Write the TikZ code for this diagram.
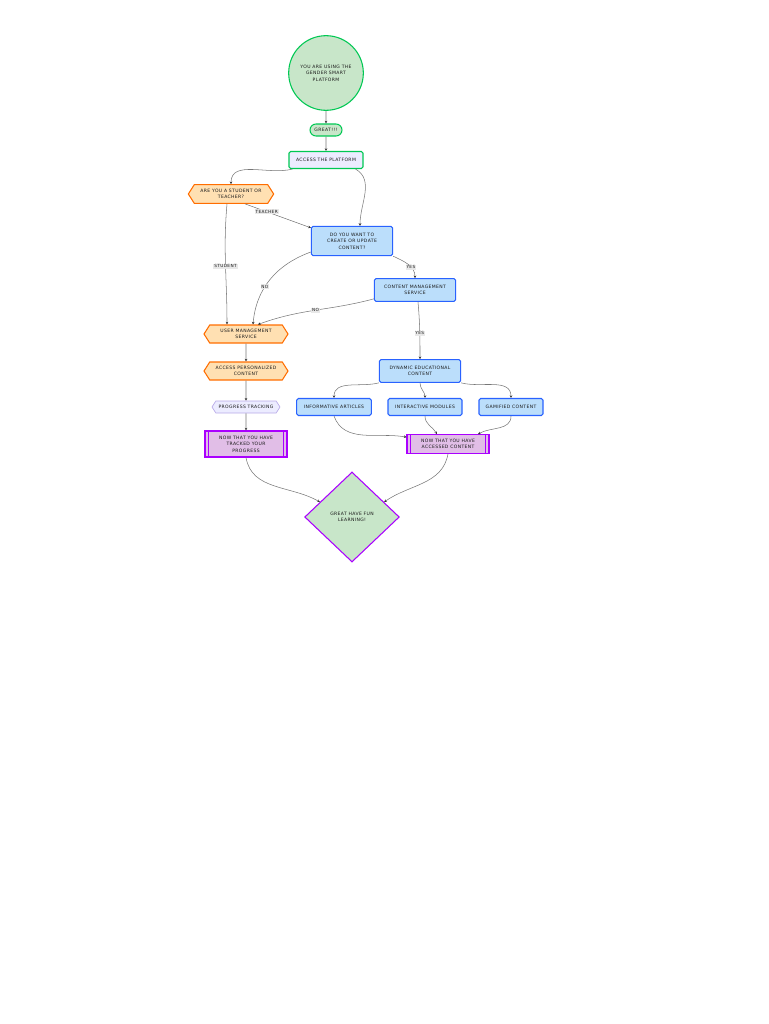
\documentclass[tikz,border=0pt]{standalone}
\usepackage{fontspec}
\setmainfont{DejaVu Sans}[LetterSpace=8]
\usetikzlibrary{shapes.geometric,shapes.misc,shapes.symbols,arrows.meta}

\definecolor{mgreen}{HTML}{00C853}
\definecolor{mgreenfill}{HTML}{C8E6C9}
\definecolor{mlav}{HTML}{ECECFF}
\definecolor{morange}{HTML}{FF6D00}
\definecolor{morangefill}{HTML}{FFE0B2}
\definecolor{mblue}{HTML}{2962FF}
\definecolor{mbluefill}{HTML}{BBDEFB}
\definecolor{mpurple}{HTML}{AA00FF}
\definecolor{mpurplefill}{HTML}{E1BEE7}
\definecolor{mlilac}{HTML}{B8A9E8}
\definecolor{mline}{HTML}{777777}
\definecolor{labelbg}{HTML}{E8E8E8}

\tikzset{
  box/.style={rectangle, rounded corners=1.2pt, inner sep=0pt, line width=0.8pt},
  greenbox/.style={box, draw=mgreen, fill=mgreenfill},
  hexbox/.style={signal, signal to=east and west, signal pointer angle=115,
    inner sep=0pt, line width=0.8pt},
  orangehex/.style={hexbox, draw=morange, fill=morangefill},
  bluebox/.style={box, draw=mblue, fill=mbluefill},
  subbox/.style={box, rounded corners=0pt, draw=mpurple, fill=mpurplefill,
    path picture={
      \draw[mpurple, line width=0.8pt]
        ([xshift=2.4pt]path picture bounding box.north west) --
        ([xshift=2.4pt]path picture bounding box.south west);
      \draw[mpurple, line width=0.8pt]
        ([xshift=-2.4pt]path picture bounding box.north east) --
        ([xshift=-2.4pt]path picture bounding box.south east);
    }},
  link/.style={draw=mline, line width=0.4pt, -{Stealth[length=2pt,width=2pt,color=black!80]}},
  edgelabel/.style={fill=labelbg, inner sep=0.7pt, font=\fontsize{3.2}{4}\selectfont}
}

\begin{document}
\begin{tikzpicture}[x=0.75pt,y=-0.75pt,
  every node/.append style={font=\fontsize{3.4}{4.9}\selectfont, align=center, text=black!90}]
\useasboundingbox (0,0) rectangle (768,1024);

% left branch and top
\node[circle, draw=mgreen, fill=mgreenfill, line width=0.8pt, inner sep=0pt,
  minimum size=56pt] (start) at (326,73) {YOU ARE USING THE\\GENDER SMART\\PLATFORM};
\node[rounded rectangle, draw=mgreen, fill=mgreenfill, line width=0.8pt, inner sep=0pt,
  minimum width=24pt, minimum height=9pt] (great) at (326,130) {GREAT!!!};
\node[box, draw=mgreen, fill=mlav, minimum width=55.5pt, minimum height=12.75pt]
  (access) at (326,160) {ACCESS THE PLATFORM};
\node[orangehex, minimum width=64pt, minimum height=14pt]
  (role) at (231,194) {ARE YOU A STUDENT OR\\TEACHER?};
\node[orangehex, minimum width=63pt, minimum height=13.5pt]
  (usermgmt) at (246,334) {USER MANAGEMENT\\SERVICE};
\node[orangehex, minimum width=63pt, minimum height=13.5pt]
  (personal) at (246,371) {ACCESS PERSONALIZED\\CONTENT};
\node[hexbox, draw=mlilac, fill=mlav, line width=0.5pt, minimum width=51pt, minimum height=9pt]
  (progress) at (246,407) {PROGRESS TRACKING};
\node[subbox, minimum width=61.5pt, minimum height=19.5pt]
  (tracked) at (246,444) {NOW THAT YOU HAVE\\TRACKED YOUR\\PROGRESS};

% right branch
\node[bluebox, minimum width=61pt, minimum height=22pt]
  (create) at (352,241) {DO YOU WANT TO\\CREATE OR UPDATE\\CONTENT?};
\node[bluebox, minimum width=61pt, minimum height=17pt]
  (cms) at (415,290) {CONTENT MANAGEMENT\\SERVICE};
\node[bluebox, minimum width=61pt, minimum height=17pt]
  (dynamic) at (420,371) {DYNAMIC EDUCATIONAL\\CONTENT};
\node[bluebox, minimum width=56pt, minimum height=12.75pt]
  (articles) at (334,407) {INFORMATIVE ARTICLES};
\node[bluebox, minimum width=55.5pt, minimum height=12.75pt]
  (modules) at (425,407) {INTERACTIVE MODULES};
\node[bluebox, minimum width=48pt, minimum height=12.75pt]
  (gamified) at (511,407) {GAMIFIED CONTENT};
\node[subbox, minimum width=61.5pt, minimum height=14pt]
  (accessed) at (448,444) {NOW THAT YOU HAVE\\ACCESSED CONTENT};
\node[diamond, draw=mpurple, fill=mgreenfill, line width=0.8pt, inner sep=0pt,
  minimum width=71pt, minimum height=67.5pt] (finish) at (352,517) {GREAT HAVE FUN\\LEARNING!};

% connectors
\draw[link] (start) -- (great);
\draw[link] (great) -- (access);
\draw[link] ([shift={(4,0)}]access.south west) to[out=195,in=90] (role.north);
\draw[link] ([shift={(-8,0)}]access.south east) to[out=-30,in=90] ([shift={(8,0)}]create.north);
\draw[link] ([shift={(14,0)}]role.south) -- node[edgelabel, pos=0.33] {TEACHER}
  ([shift={(0,2)}]create.north west);
\draw[link] ([shift={(-4,0)}]role.south) to[out=-95,in=90]
  node[edgelabel, pos=0.52] {STUDENT} ([shift={(-19,0)}]usermgmt.north);
\draw[link] ([shift={(0,11)}]create.west) to[out=200,in=85]
  node[edgelabel, pos=0.6] {NO} ([shift={(7,0)}]usermgmt.north);
\draw[link] (create.south east) to[out=-25,in=90]
  node[edgelabel, pos=0.62] {YES} (cms.north);
\draw[link] ([shift={(0,-3)}]cms.south west) to[out=195,in=20]
  node[edgelabel, pos=0.5] {NO} ([shift={(12,0)}]usermgmt.north);
\draw[link] ([shift={(3,0)}]cms.south) to[out=-85,in=90]
  node[edgelabel, pos=0.55] {YES} (dynamic.north);
\draw[link] (usermgmt) -- (personal);
\draw[link] (personal) -- (progress);
\draw[link] (progress) -- (tracked);
\draw[link] (dynamic.south west) to[out=195,in=90] (articles.north);
\draw[link] (dynamic.south) to[out=-90,in=90] (modules.north);
\draw[link] (dynamic.south east) to[out=-15,in=90] (gamified.north);
\draw[link] (articles.south) to[out=-70,in=170] ([shift={(0,3)}]accessed.north west);
\draw[link] (modules.south) to[out=-90,in=120] ([shift={(-11,0)}]accessed.north);
\draw[link] (gamified.south) to[out=-90,in=30] ([shift={(30,0)}]accessed.north);
\draw[link] (tracked.south) to[out=-80,in=150] (finish.155);
\draw[link] (accessed.south) to[out=-100,in=35] (finish.25);
\end{tikzpicture}
\end{document}
